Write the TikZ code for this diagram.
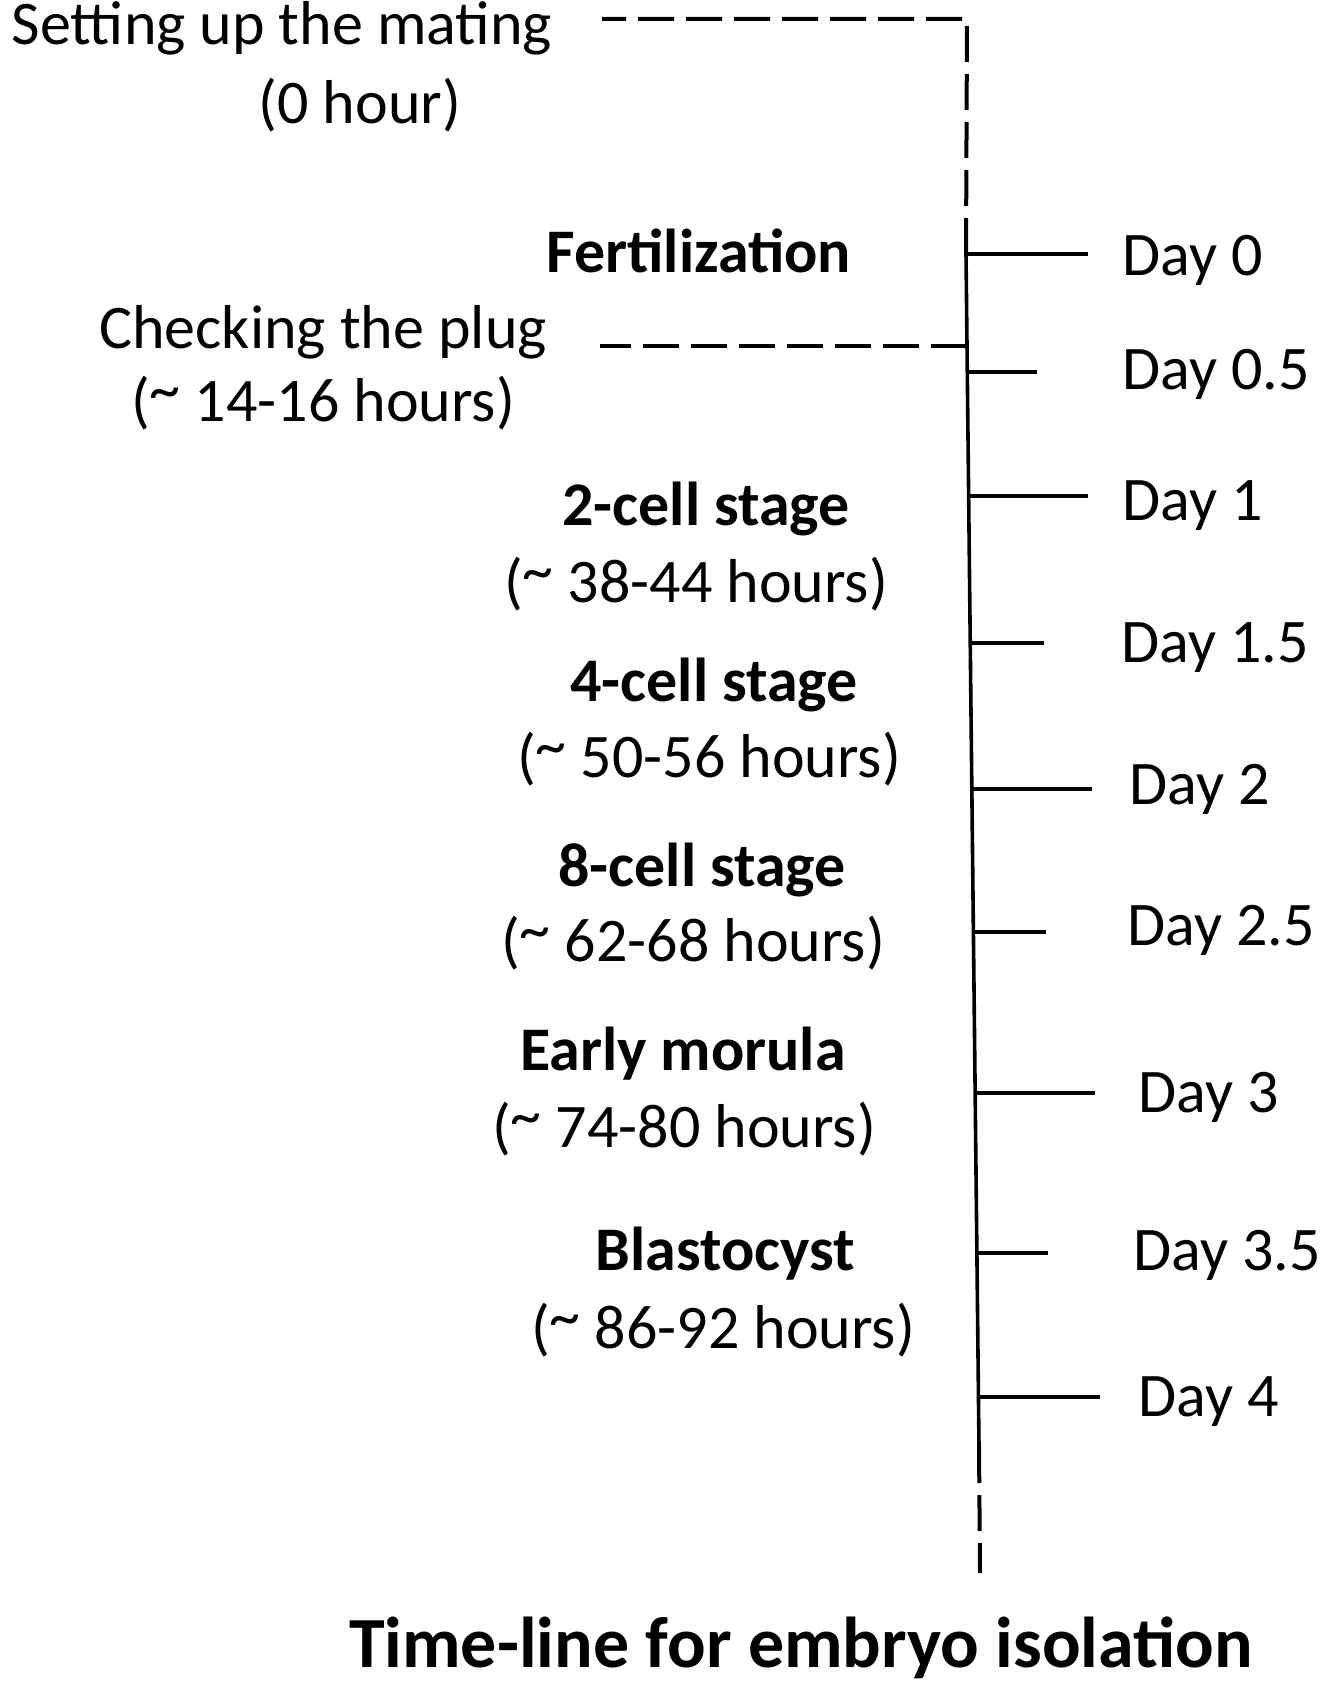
\documentclass[tikz,border=0pt]{standalone}
\usepackage{fontspec}
\setmainfont{Carlito}
\newcommand{\env}{\raisebox{0.17em}{\textasciitilde}}

\tikzset{
  txt/.style={anchor=base, inner sep=0pt, font=\fontsize{31}{37}\selectfont},
  stage/.style={txt, font=\fontsize{31}{37}\selectfont\bfseries},
  daylbl/.style={txt, anchor=base west},
  axe/.style={line width=1.8pt},
  tiret/.style={line width=2pt, dash pattern=on 18pt off 6pt},
}

\begin{document}
\begin{tikzpicture}[x=0.5pt,y=-0.5pt]
\useasboundingbox (0,0) rectangle (1328,1685);
%\draw[help lines,step=100] (0,0) grid (1328,1685);
% axe du temps (un peu penche, comme sur l'original)
\coordinate (coin) at (967,19);
\coordinate (mat) at (602,19);
\coordinate (a0) at (966,254);
\coordinate (a05) at (967.3,372);
\coordinate (a1) at (968.6,496);
\coordinate (a15) at (970.2,643);
\coordinate (a2) at (971.8,789);
\coordinate (a25) at (973.4,932);
\coordinate (a3) at (975.1,1093);
\coordinate (a35) at (976.9,1253);
\coordinate (a4) at (978.5,1397);
\coordinate (afin) at (979,1447);
\coordinate (bas) at (980,1573);
\coordinate (ap) at (967,346);
\coordinate (plg) at (600,346);
% bouts des graduations
\coordinate (t0) at (1088,254);
\coordinate (t05) at (1037,372);
\coordinate (t1) at (1088,496);
\coordinate (t15) at (1044,643);
\coordinate (t2) at (1092,789);
\coordinate (t25) at (1046,932);
\coordinate (t3) at (1095,1093);
\coordinate (t35) at (1048,1253);
\coordinate (t4) at (1100,1397);

\draw[tiret] (a0) -- (coin) -- (mat);
\draw[tiret] (ap) -- (plg);
\draw[axe] (a0) -- (afin);
\draw[tiret] (afin) -- (bas);

\draw[axe] (a0) -- (t0);
\draw[axe] (a05) -- (t05);
\draw[axe] (a1) -- (t1);
\draw[axe] (a15) -- (t15);
\draw[axe] (a2) -- (t2);
\draw[axe] (a25) -- (t25);
\draw[axe] (a3) -- (t3);
\draw[axe] (a35) -- (t35);
\draw[axe] (a4) -- (t4);

\node[daylbl] (d0) at (1122,276) {Day 0};
\node[daylbl] (d05) at (1122,389) {Day 0.5};
\node[daylbl] (d1) at (1122,520) {Day 1};
\node[daylbl] (d15) at (1121,662) {Day 1.5};
\node[daylbl] (d2) at (1129,804) {Day 2};
\node[daylbl] (d25) at (1127,945) {Day 2.5};
\node[daylbl] (d3) at (1138,1112) {Day 3};
\node[daylbl] (d35) at (1133,1270) {Day 3.5};
\node[daylbl] (d4) at (1138,1416) {Day 4};

\node[txt] (mating) at (282,45) {Setting up the mating};
\node[txt] (matingh) at (360,124) {(0 hour)};
\node[stage] (fert) at (699,272) {Fertilization};
\node[txt] (plug) at (323,348) {Checking the plug};
\node[txt] (plugh) at (323,421) {(\env{} 14-16 hours)};
\node[stage] (two) at (706,525) {2-cell stage};
\node[txt] (twoh) at (696,602) {(\env{} 38-44 hours)};
\node[stage] (four) at (714,701) {4-cell stage};
\node[txt] (fourh) at (709,777) {(\env{} 50-56 hours)};
\node[stage] (eight) at (702,886) {8-cell stage};
\node[txt] (eighth) at (693,961) {(\env{} 62-68 hours)};
\node[stage] (morula) at (683,1070) {Early morula};
\node[txt] (morulah) at (684,1147) {(\env{} 74-80 hours)};
\node[stage] (blast) at (725,1270) {Blastocyst};
\node[txt] (blasth) at (723,1348) {(\env{} 86-92 hours)};

\node[txt, font=\fontsize{36}{43}\selectfont\bfseries] (title) at (801,1667) {Time-line for embryo isolation};
\end{tikzpicture}
\end{document}
